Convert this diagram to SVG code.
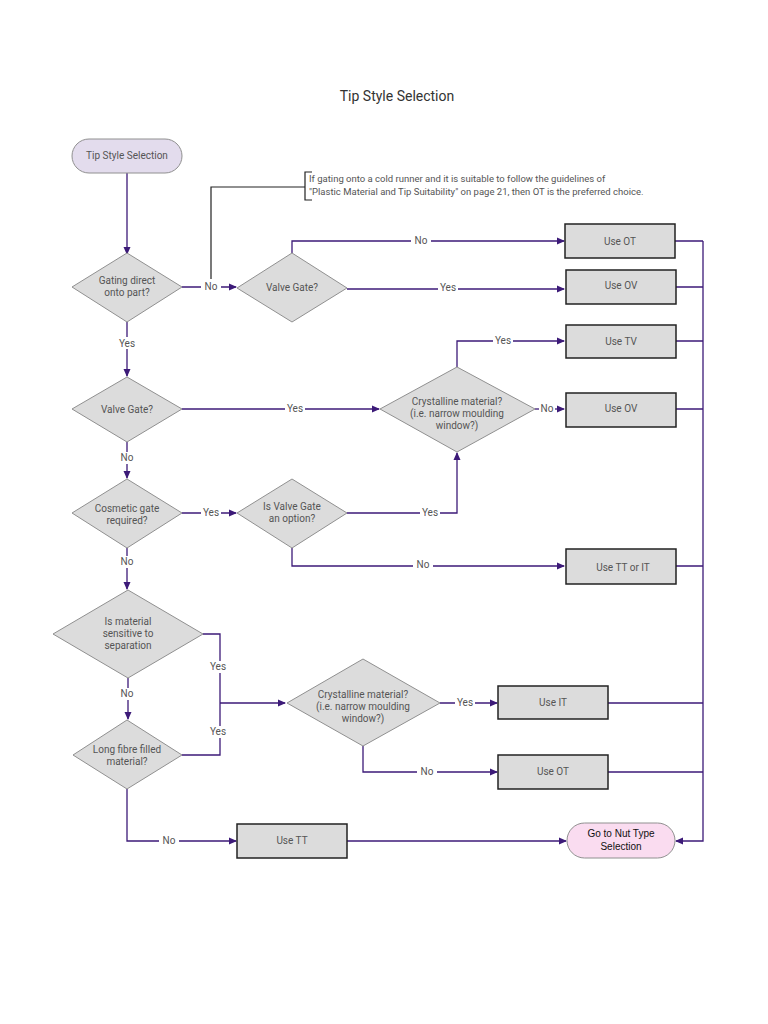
<svg xmlns="http://www.w3.org/2000/svg" width="768" height="1024" viewBox="0 0 768 1024">
<defs>
<marker id="a" markerWidth="8" markerHeight="8" refX="7" refY="4" orient="auto" markerUnits="userSpaceOnUse"><path d="M0,0.5 L8,4 L0,7.5 z" fill="#3c1a78"/></marker>
<style>
.d{fill:#dcdcdc;stroke:#909090;stroke-width:1}
.b{fill:#dcdcdc;stroke:#222;stroke-width:1.5}
.t{font-family:Roboto,"DejaVu Sans",sans-serif;font-size:10px;fill:#555;text-anchor:middle}
.l{fill:none;stroke:#3c1a78;stroke-width:1.3}
.lb{font-family:Roboto,"DejaVu Sans",sans-serif;font-size:10px;fill:#555;text-anchor:middle}
</style>
</defs>
<rect width="768" height="1024" fill="#fff"/>
<text x="397" y="101" font-family="Roboto,'DejaVu Sans',sans-serif" font-size="14" fill="#333" text-anchor="middle">Tip Style Selection</text>

<g id="connectors">
<path class="l" d="M127,173 V254" marker-end="url(#a)"/>
<path class="l" d="M182,287 H236" marker-end="url(#a)"/>
<path d="M211,279 V187 H305 M312,172 H305 V200 H312" fill="none" stroke="#222" stroke-width="1.2"/>
<path class="l" d="M292,253 V241 H564" marker-end="url(#a)"/>
<path class="l" d="M347,289 H564" marker-end="url(#a)"/>
<path class="l" d="M127,322 V376" marker-end="url(#a)"/>
<path class="l" d="M182,409 H379" marker-end="url(#a)"/>
<path class="l" d="M457,367 V341 H564" marker-end="url(#a)"/>
<path class="l" d="M535,409 H564" marker-end="url(#a)"/>
<path class="l" d="M127,442 V478" marker-end="url(#a)"/>
<path class="l" d="M182,513 H236" marker-end="url(#a)"/>
<path class="l" d="M347,513 H457 V453" marker-end="url(#a)"/>
<path class="l" d="M292,548 V566 H564" marker-end="url(#a)"/>
<path class="l" d="M127,548 V589" marker-end="url(#a)"/>
<path class="l" d="M203,634 H220 V755 H182 M220,703 H285" marker-end="url(#a)"/>
<path class="l" d="M128,678 V719" marker-end="url(#a)"/>
<path class="l" d="M440,703 H497" marker-end="url(#a)"/>
<path class="l" d="M363,746 V772 H497" marker-end="url(#a)"/>
<path class="l" d="M127,789 V841 H236" marker-end="url(#a)"/>
<path class="l" d="M347,841 H566" marker-end="url(#a)"/>
<path class="l" d="M675,241 H703 M676,287 H703 M676,341 H703 M676,409 H703 M676,566 H703 M608,703 H703 M608,772 H703 M703,241 V841 H676" marker-end="url(#a)"/>
<g>
<rect x="201" y="280" width="20" height="12" fill="#fff"/><text class="lb" x="211" y="290">No</text>
<rect x="411" y="235" width="20" height="12" fill="#fff"/><text class="lb" x="421" y="244">No</text>
<rect x="438" y="282" width="20" height="12" fill="#fff"/><text class="lb" x="448" y="291">Yes</text>
<rect x="117" y="337" width="20" height="12" fill="#fff"/><text class="lb" x="127" y="347">Yes</text>
<rect x="285" y="403" width="20" height="12" fill="#fff"/><text class="lb" x="295" y="412">Yes</text>
<rect x="493" y="335" width="20" height="12" fill="#fff"/><text class="lb" x="503" y="344">Yes</text>
<rect x="539" y="403" width="16" height="12" fill="#fff"/><text class="lb" x="547" y="412">No</text>
<rect x="117" y="452" width="20" height="12" fill="#fff"/><text class="lb" x="127" y="461">No</text>
<rect x="201" y="507" width="20" height="12" fill="#fff"/><text class="lb" x="211" y="516">Yes</text>
<rect x="420" y="507" width="20" height="12" fill="#fff"/><text class="lb" x="430" y="516">Yes</text>
<rect x="413" y="559" width="20" height="12" fill="#fff"/><text class="lb" x="423" y="568">No</text>
<rect x="117" y="556" width="20" height="12" fill="#fff"/><text class="lb" x="127" y="565">No</text>
<rect x="208" y="661" width="20" height="12" fill="#fff"/><text class="lb" x="218" y="670">Yes</text>
<rect x="208" y="726" width="20" height="12" fill="#fff"/><text class="lb" x="218" y="735">Yes</text>
<rect x="117" y="688" width="20" height="12" fill="#fff"/><text class="lb" x="127" y="697">No</text>
<rect x="455" y="697" width="20" height="12" fill="#fff"/><text class="lb" x="465" y="706">Yes</text>
<rect x="417" y="766" width="20" height="12" fill="#fff"/><text class="lb" x="427" y="775">No</text>
<rect x="159" y="835" width="20" height="12" fill="#fff"/><text class="lb" x="169" y="844">No</text>
</g>
</g>

<g id="note"><text font-family="Roboto,'DejaVu Sans',sans-serif" font-size="9.5" fill="#555"><tspan x="309" y="182">If gating onto a cold runner and it is suitable to follow the guidelines of</tspan><tspan x="309" y="195">"Plastic Material and Tip Suitability" on page 21, then OT is the preferred choice.</tspan></text></g>

<g id="start"><rect x="72" y="139" width="110" height="34" rx="17" fill="#e3dced" stroke="#909090"/><text class="t" x="127" y="159">Tip Style Selection</text></g>
<g id="d1"><path class="d" d="M127,253 L182,287 L127,322 L72,287 z"/><text class="t" x="127" y="284">Gating direct</text><text class="t" x="127" y="296">onto part?</text></g>
<g id="d2"><path class="d" d="M292,253 L347,288 L292,322 L237,288 z"/><text class="t" x="292" y="291">Valve Gate?</text></g>
<g id="ot1"><rect class="b" x="565" y="224" width="110" height="34"/><text class="t" x="620" y="245">Use OT</text></g>
<g id="ov1"><rect class="b" x="566" y="270" width="110" height="34"/><text class="t" x="621" y="289">Use OV</text></g>
<g id="d3"><path class="d" d="M127,377 L182,409 L127,442 L72,409 z"/><text class="t" x="127" y="413">Valve Gate?</text></g>
<g id="d4"><path class="d" d="M457,367 L535,409 L457,452 L380,409 z"/><text class="t" x="457" y="405">Crystalline material?</text><text class="t" x="457" y="417">(i.e. narrow moulding</text><text class="t" x="457" y="429">window?)</text></g>
<g id="tv"><rect class="b" x="566" y="325" width="110" height="33"/><text class="t" x="621" y="345">Use TV</text></g>
<g id="ov2"><rect class="b" x="566" y="393" width="110" height="34"/><text class="t" x="621" y="412">Use OV</text></g>
<g id="d5"><path class="d" d="M127,479 L182,513 L127,548 L72,513 z"/><text class="t" x="127" y="512">Cosmetic gate</text><text class="t" x="127" y="524">required?</text></g>
<g id="d6"><path class="d" d="M292,479 L347,513 L292,548 L237,513 z"/><text class="t" x="292" y="510">Is Valve Gate</text><text class="t" x="292" y="522">an option?</text></g>
<g id="ttit"><rect class="b" x="566" y="549" width="110" height="35"/><text class="t" x="623" y="571">Use TT or IT</text></g>
<g id="d7"><path class="d" d="M128,590 L203,634 L128,678 L53,634 z"/><text class="t" x="128" y="625">Is material</text><text class="t" x="128" y="637">sensitive to</text><text class="t" x="128" y="649">separation</text></g>
<g id="d8"><path class="d" d="M127,720 L182,755 L127,789 L73,755 z"/><text class="t" x="127" y="753">Long fibre filled</text><text class="t" x="127" y="765">material?</text></g>
<g id="d9"><path class="d" d="M363,659 L440,703 L363,746 L287,703 z"/><text class="t" x="363" y="698">Crystalline material?</text><text class="t" x="363" y="710">(i.e. narrow moulding</text><text class="t" x="363" y="722">window?)</text></g>
<g id="it"><rect class="b" x="498" y="686" width="110" height="33"/><text class="t" x="553" y="706">Use IT</text></g>
<g id="ot2"><rect class="b" x="498" y="755" width="110" height="34"/><text class="t" x="553" y="775">Use OT</text></g>
<g id="tt"><rect class="b" x="237" y="824" width="110" height="34"/><text class="t" x="292" y="844">Use TT</text></g>
<g id="end"><rect x="567" y="823" width="108" height="35" rx="17.5" fill="#fadcf0" stroke="#909090"/><text x="621" y="837" font-family="'Liberation Sans',Arial,sans-serif" font-size="10" fill="#111" text-anchor="middle">Go to Nut Type</text><text x="621" y="850" font-family="'Liberation Sans',Arial,sans-serif" font-size="10" fill="#111" text-anchor="middle">Selection</text></g>
</svg>
